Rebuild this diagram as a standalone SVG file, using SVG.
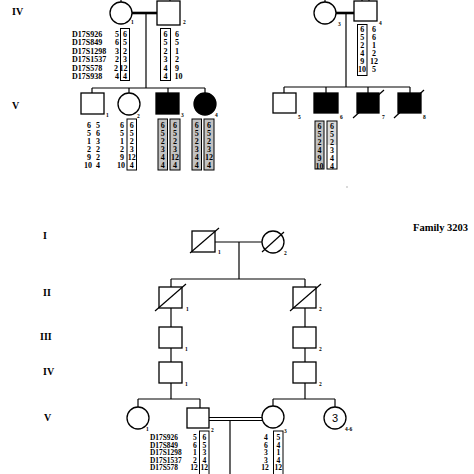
<svg xmlns="http://www.w3.org/2000/svg" width="474" height="474" viewBox="0 0 474 474">
<style>
.ln{stroke:#000;stroke-width:1.2;fill:none}
.thk{stroke:#000;stroke-width:2.6;fill:none}
.sym{stroke:#000;stroke-width:1.3;fill:#fff}
.aff{stroke:#000;stroke-width:1.3;fill:#000}
.box{stroke:#000;stroke-width:1;fill:none}
.gbox{stroke:#000;stroke-width:1;fill:#c2c2c2}
text{font-family:"Liberation Serif","Times New Roman",serif;font-weight:bold;fill:#000}
.gen{font-size:10px}
.mk{font-size:8px}
.mk2{font-size:7.4px}
.n{font-size:8px;text-anchor:middle}
.n2{font-size:7.6px;text-anchor:middle}
.id{font-size:5.5px}
</style>

<!-- Generation labels -->
<g id="gen-labels">
<text class="gen" x="12" y="15">IV</text>
<text class="gen" x="12" y="109">V</text>
<text class="gen" x="43" y="239">I</text>
<text class="gen" x="43" y="296">II</text>
<text class="gen" x="40" y="340">III</text>
<text class="gen" x="43" y="375">IV</text>
<text class="gen" x="44" y="421">V</text>
<text class="gen" x="413" y="231" style="font-size:10.5px">Family 3203</text>
</g>

<!-- Connectors -->
<g id="connectors">
<!-- top-left family -->
<line class="ln" x1="121" y1="0" x2="121" y2="2"/>
<line class="ln" x1="170" y1="0" x2="170" y2="2"/>
<line class="thk" x1="132" y1="13" x2="157" y2="13"/>
<line class="ln" x1="146" y1="13" x2="146" y2="88"/>
<line class="ln" x1="92" y1="88" x2="205" y2="88"/>
<line class="ln" x1="92" y1="88" x2="92" y2="93"/>
<line class="ln" x1="129" y1="88" x2="129" y2="93"/>
<line class="ln" x1="168" y1="88" x2="168" y2="93"/>
<line class="ln" x1="205" y1="88" x2="205" y2="93"/>
<!-- top-right family -->
<line class="ln" x1="325" y1="0" x2="325" y2="2"/>
<line class="ln" x1="362" y1="0" x2="362" y2="1"/>
<line class="ln" x1="369" y1="0" x2="369" y2="1"/>
<line class="thk" x1="336" y1="13" x2="354" y2="13"/>
<line class="ln" x1="346" y1="13" x2="346" y2="87"/>
<line class="ln" x1="284" y1="87" x2="410" y2="87"/>
<line class="ln" x1="284" y1="87" x2="284" y2="93"/>
<line class="ln" x1="326" y1="87" x2="326" y2="93"/>
<line class="ln" x1="368" y1="87" x2="368" y2="93"/>
<line class="ln" x1="410" y1="87" x2="410" y2="93"/>
<!-- bottom family -->
<line class="ln" x1="215" y1="242" x2="262" y2="242"/>
<line class="ln" x1="239" y1="242" x2="239" y2="279"/>
<line class="ln" x1="171" y1="279" x2="305" y2="279"/>
<line class="ln" x1="171" y1="279" x2="171" y2="287"/>
<line class="ln" x1="305" y1="279" x2="305" y2="287"/>
<line class="ln" x1="171" y1="308" x2="171" y2="328"/>
<line class="ln" x1="305" y1="308" x2="305" y2="328"/>
<line class="ln" x1="171" y1="348" x2="171" y2="362"/>
<line class="ln" x1="305" y1="348" x2="305" y2="362"/>
<line class="ln" x1="171" y1="383" x2="171" y2="399"/>
<line class="ln" x1="138" y1="399" x2="200" y2="399"/>
<line class="ln" x1="138" y1="399" x2="138" y2="407"/>
<line class="ln" x1="200" y1="399" x2="200" y2="408"/>
<line class="ln" x1="305" y1="383" x2="305" y2="399"/>
<line class="ln" x1="273" y1="399" x2="335" y2="399"/>
<line class="ln" x1="273" y1="399" x2="273" y2="406"/>
<line class="ln" x1="335" y1="399" x2="335" y2="407"/>
<line class="ln" x1="209" y1="417.5" x2="263" y2="417.5"/>
<line class="ln" x1="209" y1="420.5" x2="263" y2="420.5"/>
<line class="ln" x1="230" y1="420" x2="230" y2="474"/>
</g>

<!-- Top-left family -->
<g id="IV-1">
<circle class="sym" cx="121" cy="13" r="11"/>
<text class="id" x="131" y="24">1</text>
<text class="mk" x="72" y="37">D17S926</text>
<text class="mk" x="72" y="45.4">D17S849</text>
<text class="mk" x="72" y="53.8">D17S1298</text>
<text class="mk" x="72" y="62.2">D17S1537</text>
<text class="mk" x="72" y="70.6">D17S578</text>
<text class="mk" x="72" y="79">D17S938</text>
<rect class="box" x="120.5" y="28.5" width="9" height="52"/>
<g class="n">
<text x="117" y="37">5</text><text x="117" y="45.4">6</text><text x="117" y="53.8">3</text><text x="117" y="62.2">2</text><text x="116" y="70.6">2</text><text x="117" y="79">4</text>
<text x="125" y="37">6</text><text x="125" y="45.4">5</text><text x="125" y="53.8">2</text><text x="125" y="62.2">3</text><text x="123.5" y="70.6">12</text><text x="125" y="79">4</text>
</g>
</g>

<g id="IV-2">
<rect class="sym" x="157" y="1" width="23" height="24"/>
<text class="id" x="183" y="24">2</text>
<rect class="box" x="160.5" y="28.5" width="10" height="52"/>
<g class="n">
<text x="165.5" y="37">6</text><text x="165.5" y="45.4">5</text><text x="165.5" y="53.8">2</text><text x="165.5" y="62.2">3</text><text x="165.5" y="70.6">4</text><text x="165.5" y="79">4</text>
<text x="177" y="37">6</text><text x="177" y="45.4">5</text><text x="177" y="53.8">1</text><text x="177" y="62.2">2</text><text x="177" y="70.6">9</text><text x="178.5" y="79">10</text>
</g>
</g>

<g id="V-1">
<rect class="sym" x="81" y="93" width="23" height="21"/>
<text class="id" x="106" y="117">1</text>
<g class="n">
<text x="89" y="128">6</text><text x="89" y="136">5</text><text x="89" y="144">1</text><text x="89" y="152">2</text><text x="89" y="160">9</text><text x="88" y="168">10</text>
<text x="98" y="128">5</text><text x="98" y="136">6</text><text x="98" y="144">3</text><text x="98" y="152">2</text><text x="98" y="160">2</text><text x="98" y="168">4</text>
</g>
</g>

<g id="V-2">
<circle class="sym" cx="129" cy="104" r="11"/>
<text class="id" x="137" y="118">2</text>
<rect class="box" x="127" y="119" width="9.5" height="51"/>
<g class="n">
<text x="122" y="128">6</text><text x="122" y="136">5</text><text x="122" y="144">1</text><text x="122" y="152">2</text><text x="122" y="160">9</text><text x="121" y="168">10</text>
<text x="131.8" y="128">6</text><text x="131.8" y="136">5</text><text x="131.8" y="144">2</text><text x="131.8" y="152">3</text><text x="131.8" y="160">12</text><text x="131.8" y="168">4</text>
</g>
</g>

<g id="V-3">
<rect class="aff" x="156" y="93" width="23" height="21"/>
<text class="id" x="181" y="117">3</text>
<rect class="gbox" x="158" y="119" width="9.5" height="51"/>
<rect class="gbox" x="170" y="119" width="10" height="51"/>
<g class="n">
<text x="162.8" y="128">6</text><text x="162.8" y="136">5</text><text x="162.8" y="144">2</text><text x="162.8" y="152">3</text><text x="162.8" y="160">4</text><text x="162.8" y="168">4</text>
<text x="175" y="128">6</text><text x="175" y="136">5</text><text x="175" y="144">2</text><text x="175" y="152">3</text><text x="175" y="160">12</text><text x="175" y="168">4</text>
</g>
</g>

<g id="V-4">
<circle class="aff" cx="205" cy="104" r="11"/>
<text class="id" x="215" y="117">4</text>
<rect class="gbox" x="192" y="119" width="9.5" height="51"/>
<rect class="gbox" x="204" y="119" width="10" height="51"/>
<g class="n">
<text x="196.8" y="128">6</text><text x="196.8" y="136">5</text><text x="196.8" y="144">2</text><text x="196.8" y="152">3</text><text x="196.8" y="160">4</text><text x="196.8" y="168">4</text>
<text x="209" y="128">6</text><text x="209" y="136">5</text><text x="209" y="144">2</text><text x="209" y="152">3</text><text x="209" y="160">12</text><text x="209" y="168">4</text>
</g>
</g>

<!-- Top-right family -->
<g id="IV-3">
<circle class="sym" cx="325" cy="13" r="11"/>
<text class="id" x="338" y="26">3</text>
</g>

<g id="IV-4">
<rect class="sym" x="354" y="1" width="23" height="20"/>
<text class="id" x="379" y="25">4</text>
<rect class="box" x="357.5" y="24.5" width="9.5" height="51"/>
<g class="n">
<text x="362.3" y="32">6</text><text x="362.3" y="40">5</text><text x="362.3" y="48">2</text><text x="362.3" y="56">4</text><text x="362.3" y="64">9</text><text x="362" y="72">10</text>
<text x="374" y="32">6</text><text x="374" y="40">6</text><text x="374" y="48">1</text><text x="374" y="56">2</text><text x="374" y="64">12</text><text x="374" y="72">5</text>
</g>
</g>

<g id="V-5">
<rect class="sym" x="273" y="93" width="23" height="20"/>
<text class="id" x="298" y="119">5</text>
</g>

<g id="V-6">
<rect class="aff" x="314" y="93" width="24" height="20"/>
<text class="id" x="340" y="119">6</text>
<rect class="gbox" x="315" y="121" width="9" height="48"/>
<rect x="327" y="121" width="10" height="24" fill="#dcdcdc"/>
<rect class="box" x="327" y="121" width="10" height="48"/>
<g class="n">
<text x="319.5" y="129">6</text><text x="319.5" y="137">5</text><text x="319.5" y="145">2</text><text x="319.5" y="153">4</text><text x="319.5" y="161">9</text><text x="319.5" y="168.5">10</text>
<text x="332" y="129">6</text><text x="332" y="137">5</text><text x="332" y="145">2</text><text x="332" y="153">3</text><text x="332" y="161">4</text><text x="332" y="168.5">4</text>
</g>
</g>

<g id="V-7">
<rect class="aff" x="357" y="93" width="22" height="20"/>
<line class="ln" x1="353" y1="118" x2="384" y2="90"/>
<text class="id" x="382" y="119">7</text>
</g>

<g id="V-8">
<rect class="aff" x="398" y="93" width="23" height="20"/>
<line class="ln" x1="394" y1="118" x2="424" y2="90"/>
<text class="id" x="423" y="119">8</text>
</g>

<circle cx="347" cy="187" r="0.7" fill="#999"/>

<!-- Bottom family -->
<g id="I-1">
<rect class="sym" x="192" y="231" width="23" height="21"/>
<line class="ln" x1="190" y1="253" x2="219" y2="228"/>
<text class="id" x="218" y="254">1</text>
</g>
<g id="I-2">
<circle class="sym" cx="273" cy="242" r="11"/>
<line class="ln" x1="262" y1="252" x2="284" y2="232"/>
<text class="id" x="284" y="255">2</text>
</g>
<g id="II-1">
<rect class="sym" x="159" y="287" width="23" height="21"/>
<line class="ln" x1="155" y1="311" x2="186" y2="284"/>
<text class="id" x="186" y="311">1</text>
</g>
<g id="II-2">
<rect class="sym" x="293" y="287" width="23" height="21"/>
<line class="ln" x1="290" y1="311" x2="321" y2="284"/>
<text class="id" x="319" y="311">2</text>
</g>
<g id="III-1">
<rect class="sym" x="159" y="327" width="23" height="21"/>
<text class="id" x="185" y="351">1</text>
</g>
<g id="III-2">
<rect class="sym" x="293" y="327" width="23" height="21"/>
<text class="id" x="319" y="351">2</text>
</g>
<g id="IV-1b">
<rect class="sym" x="159" y="362" width="23" height="21"/>
<text class="id" x="185" y="386">1</text>
</g>
<g id="IV-2b">
<rect class="sym" x="293" y="362" width="23" height="21"/>
<text class="id" x="319" y="386">2</text>
</g>
<g id="V-1b">
<circle class="sym" cx="138" cy="418" r="11"/>
<text class="id" x="146" y="431">1</text>
</g>
<g id="V-2b">
<rect class="sym" x="187" y="408" width="22" height="20"/>
<text class="id" x="211" y="432">2</text>
<text class="mk2" x="150" y="440">D17S926</text>
<text class="mk2" x="150" y="447.6">D17S849</text>
<text class="mk2" x="150" y="455.2">D17S1298</text>
<text class="mk2" x="150" y="462.8">D17S1537</text>
<text class="mk2" x="150" y="470.4">D17S578</text>
<rect class="box" x="199.5" y="431" width="9.5" height="50"/>
<g class="n2">
<text x="195" y="440">5</text><text x="195" y="447.6">6</text><text x="195" y="455.2">1</text><text x="195" y="462.8">2</text><text x="194" y="470.4">12</text>
<text x="204.3" y="440">6</text><text x="204.3" y="447.6">5</text><text x="204.3" y="455.2">3</text><text x="204.3" y="462.8">4</text><text x="204.3" y="470.4">12</text>
</g>
</g>
<g id="V-3b">
<circle class="sym" cx="273" cy="417" r="11"/>
<text class="id" x="284" y="433">3</text>
<rect class="box" x="273.5" y="431" width="9.5" height="50"/>
<g class="n2">
<text x="266" y="440">4</text><text x="266" y="447.6">6</text><text x="266" y="455.2">3</text><text x="266" y="462.8">3</text><text x="265" y="470.4">12</text>
<text x="278.3" y="440">5</text><text x="278.3" y="447.6">4</text><text x="278.3" y="455.2">1</text><text x="278.3" y="462.8">4</text><text x="278.3" y="470.4">12</text>
</g>
</g>
<g id="V-4-6">
<circle class="sym" cx="335" cy="418" r="11"/>
<text x="335" y="422" style="font-size:11px;font-weight:normal;text-anchor:middle;font-family:'Liberation Sans',Arial,sans-serif">3</text>
<text class="id" x="345" y="431">4-6</text>
</g>
</svg>
